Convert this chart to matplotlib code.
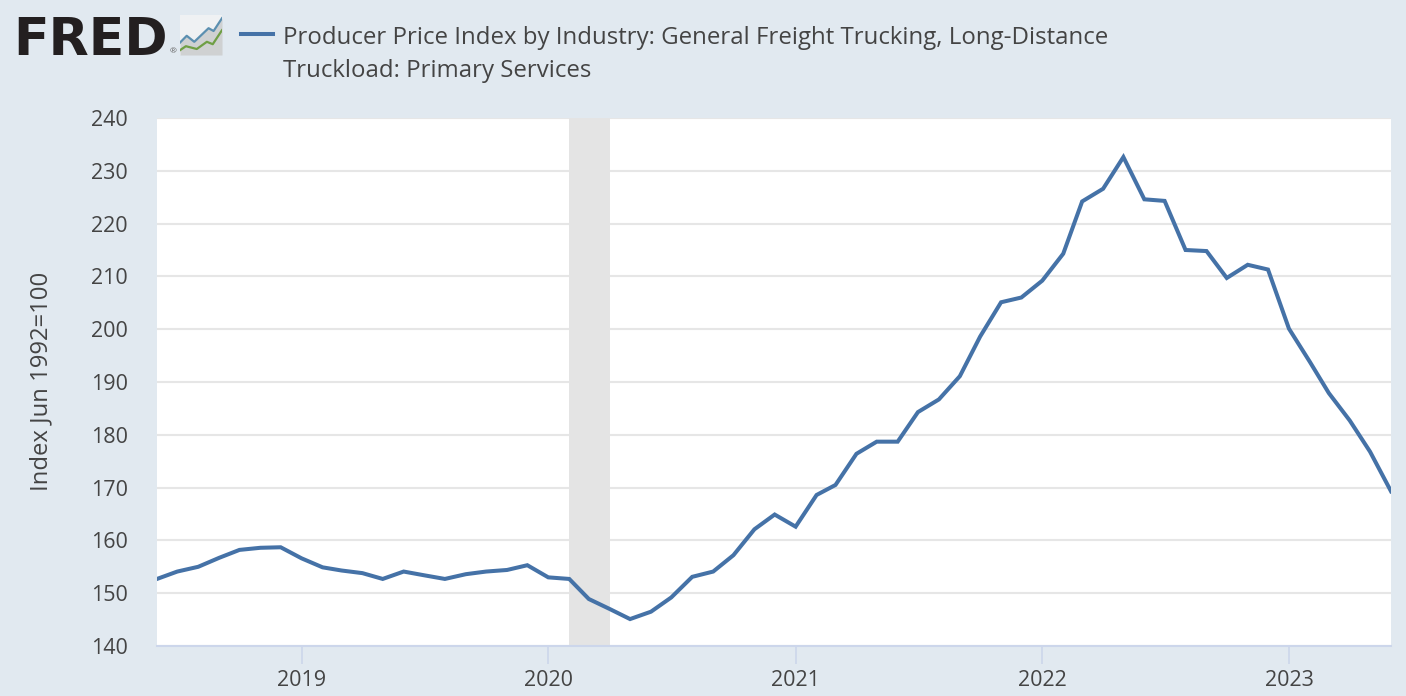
import pandas as pd
import matplotlib
matplotlib.use("Agg")
import matplotlib.pyplot as plt
import matplotlib.dates as mdates
from matplotlib.patches import Rectangle

plt.rcParams["font.family"] = ["Open Sans", "DejaVu Sans"]

# 月次データ
dates = pd.date_range("2018-06-01", "2023-06-01", freq="MS")
ppi_values = [
    152.7, 154.1, 155.0, 156.7, 158.2, 158.6, 158.7,
    156.6, 154.9, 154.3, 153.8, 152.7, 154.1, 153.4, 152.7, 153.6, 154.1, 154.4, 155.3,
    153.0, 152.7, 148.9, 147.0, 145.1, 146.5, 149.2, 153.1, 154.1, 157.2, 162.1, 164.9,
    162.6, 168.6, 170.5, 176.4, 178.7, 178.7, 184.3, 186.7, 191.1, 198.6, 205.1, 206.0,
    209.2, 214.3, 224.2, 226.6, 232.6, 224.6, 224.3, 215.0, 214.8, 209.7, 212.2, 211.3,
    200.1, 193.8, 187.9, 182.7, 176.8, 169.3,
]
recession_start = "2020-02-01"
recession_end = "2020-04-01"
y_ticks = list(range(140, 250, 10))
x_tick_years = [2019, 2020, 2021, 2022, 2023]
title_lines = [
    "Producer Price Index by Industry: General Freight Trucking, Long-Distance",
    "Truckload: Primary Services",
]
y_label = "Index Jun 1992=100"

# ロゴのアイコン用
icon_blue_x = [0, 0.16, 0.34, 0.68, 0.80, 1]
icon_blue_y = [0.31, 0.48, 0.33, 0.67, 0.60, 0.92]
icon_green_x = [0, 0.14, 0.40, 0.64, 0.78, 1]
icon_green_y = [0.12, 0.22, 0.15, 0.33, 0.27, 0.62]

BG = "#e1e9f0"
TEXT = "#444444"
W, H = 1406, 696


def px_box(left, top, right, bottom):
    # ピクセル指定を figure 座標に変換
    return [left / W, 1 - bottom / H, (right - left) / W, (bottom - top) / H]


fig = plt.figure(figsize=(W / 100, H / 100), dpi=100, facecolor=BG)
ax = fig.add_axes(px_box(157, 118, 1391, 646))
ax.set_facecolor("white")

ax.axvspan(pd.Timestamp(recession_start), pd.Timestamp(recession_end),
           color="#e4e4e4", lw=0, zorder=2)
ax.plot(dates, ppi_values, color="#4572a7", lw=2.9, solid_joinstyle="miter", zorder=3)

ax.set_xlim(dates[0], dates[-1])
ax.set_ylim(140, 240)
ax.set_yticks(y_ticks)
ax.set_xticks([pd.Timestamp(f"{y}-01-01") for y in x_tick_years])
ax.xaxis.set_major_formatter(mdates.DateFormatter("%Y"))

ax.grid(axis="y", color="#e6e6e6", lw=1.5, zorder=1)
ax.set_axisbelow(True)
for name in ["top", "left", "right"]:
    ax.spines[name].set_visible(False)
ax.spines["bottom"].set_color("#ccd6eb")
ax.spines["bottom"].set_linewidth(1.5)

ax.tick_params(axis="y", length=0, pad=21, labelsize=15.5, labelcolor=TEXT)
ax.tick_params(axis="x", length=13, width=1.2, color="#ccd6eb", pad=4,
               labelsize=15.5, labelcolor=TEXT)

fig.text(41 / W, 1 - 381 / H, y_label, rotation=90, ha="center", va="center",
         fontsize=17.2, color=TEXT)

# タイトルと凡例の線
fig.add_artist(plt.Line2D([241 / W, 273 / W], [1 - 33.5 / H] * 2, color="#4572a7", lw=2.9))
fig.text(283 / W, 1 - 38 / H, title_lines[0], ha="left", va="center", fontsize=17.26, color=TEXT)
fig.text(283 / W, 1 - 71 / H, title_lines[1], ha="left", va="center", fontsize=17.26, color=TEXT)

# FRED ロゴ
fig.text(13 / W, 1 - 55 / H, "FRED", ha="left", va="baseline", fontsize=37.5,
         fontweight="bold", family="DejaVu Sans", color="#231f20")
fig.text(173 / W, 1 - 52 / H, "®", ha="center", va="center", fontsize=6, color="#666666")

icon = fig.add_axes(px_box(180, 15, 222, 55))
icon.set_xlim(0, 1)
icon.set_ylim(0, 1)
icon.axis("off")
icon.add_patch(Rectangle((0, 0), 1, 1, color="#eff1f3", lw=0))
icon.fill_between(icon_blue_x, 0, icon_blue_y, color="#cfd1d2", lw=0)
icon.plot(icon_blue_x, icon_blue_y, color="#5b8fb0", lw=1.6)
icon.plot(icon_green_x, icon_green_y, color="#6f9f45", lw=1.6)

plt.savefig("out.png", dpi=100, facecolor=BG)
plt.close()
